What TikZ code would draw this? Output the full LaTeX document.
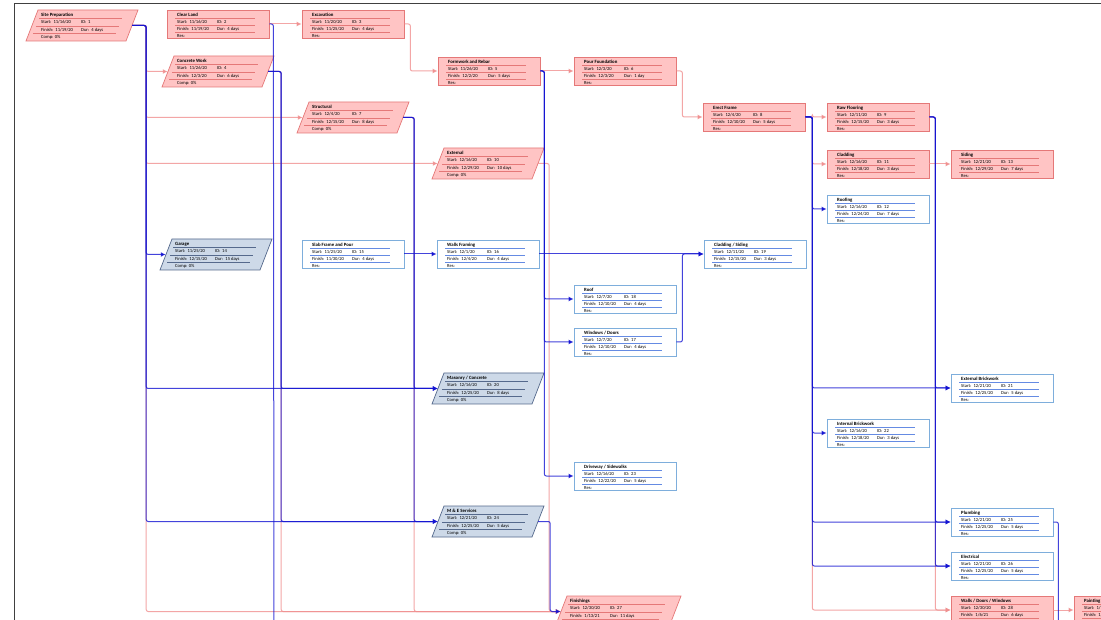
\documentclass[tikz,border=0pt]{standalone}
\usepackage{fontspec}
\setmainfont{Carlito}
\usetikzlibrary{arrows.meta,calc}
\definecolor{pkfill}{HTML}{FFC4C4}
\definecolor{pkdraw}{HTML}{E57878}
\definecolor{pkline}{HTML}{F09090}
\definecolor{bldraw}{HTML}{7EAEDC}
\definecolor{blline}{HTML}{1414D2}
\definecolor{gyfill}{HTML}{CDD9E8}
\definecolor{gydraw}{HTML}{55698C}
\tikzset{
  txt/.style={anchor=west,inner sep=0pt,font=\fontsize{4.6}{4.6}\selectfont},
  ttl/.style={anchor=west,inner sep=0pt,font=\fontsize{4.8}{4.8}\selectfont\bfseries},
  pkbox/.style={fill=pkfill,draw=pkdraw,line width=0.7pt},
  blbox/.style={fill=white,draw=bldraw,line width=0.7pt},
  gybox/.style={fill=gyfill,draw=gydraw,line width=0.7pt},
  pksep/.style={draw=pkdraw,line width=0.4pt},
  blsep/.style={draw=bldraw!80!blue,line width=0.4pt},
  gysep/.style={draw=gydraw,line width=0.4pt},
  pk/.style={draw=pkline,line width=1pt,rounded corners=2pt,draw opacity=0.8,-{Latex[length=5pt,width=5pt,fill=pkline]}},
  bl/.style={draw=blline,line width=1pt,rounded corners=2pt,draw opacity=0.8,-{Latex[length=5pt,width=5pt,fill=blline]}},
  blnt/.style={draw=blline,line width=1pt,rounded corners=2pt,draw opacity=0.8},
}
\newcommand\rbox[9]{%
\begin{scope}[shift={(#2,#3)}]
\node[#4box,minimum width=102pt,minimum height=28pt,inner sep=0pt] (#1) at (51,14) {};
\coordinate (#1-in) at (#1.west); \coordinate (#1-out) at (#1.east);
\draw[#4sep] (8,8.5) -- (88,8.5) (8,15.5) -- (88,15.5) (8,22.5) -- (88,22.5);
\node[ttl] at (10,5) {#5};
\node[txt] at (10,12) {Start:\, #6}; \node[txt] at (50,12) {ID:\, #7};
\node[txt] at (10,19) {Finish:\, #8}; \node[txt] at (50,19) {Dur:\, #9};
\node[txt] at (10,26) {Res:};
\end{scope}}
\newcommand\pw{112}
\newcommand\pbox[9]{%
\begin{scope}[shift={(#2,#3)}]
\node[minimum width=\pw pt,minimum height=31pt,inner sep=0pt] (#1) at (\pw/2,15.5) {};
\coordinate (#1-in) at ($(#1.west)+(6,0)$); \coordinate (#1-out) at ($(#1.east)+(-6,0)$);
\draw[#4box] (0,31) -- (12,0) -- (\pw,0) -- (\pw-12,31) -- cycle;
\draw[#4sep] (13,8.5) -- (\pw-16,8.5) (10,16) -- (\pw-19,16) (7,23.5) -- (\pw-22,23.5);
\node[ttl] at (15,5) {#5};
\node[txt] at (15,12.3) {Start:\, #6}; \node[txt] at (55,12.3) {ID:\, #7};
\node[txt] at (15,19.8) {Finish:\, #8}; \node[txt] at (55,19.8) {Dur:\, #9};
\node[txt] at (15,27.3) {Comp: 0\%};
\end{scope}}
\begin{document}
\begin{tikzpicture}[x=1pt,y=-1pt]
\useasboundingbox (0,0) rectangle (1101,620);
\clip (0,0) rectangle (1101,620);
\fill[white] (0,0) rectangle (1101,620);
\draw[black!75,line width=0.8pt] (14,640) -- (14,3) -- (1120,3);
\pbox{sp}{26}{10}{pk}{Site Preparation}{11/16/20}{1}{11/19/20}{4 days}
\rbox{cl}{167}{10}{pk}{Clear Land}{11/16/20}{2}{11/19/20}{4 days}
\rbox{exc}{302}{10}{pk}{Excavation}{11/20/20}{3}{11/25/20}{4 days}
\pbox{cw}{162}{56}{pk}{Concrete Work}{11/26/20}{4}{12/3/20}{6 days}
\rbox{fw}{438}{57}{pk}{Formwork and Rebar}{11/26/20}{5}{12/2/20}{5 days}
\rbox{pf}{574}{57}{pk}{Pour Foundation}{12/3/20}{6}{12/3/20}{1 day}
\pbox{st}{297}{102}{pk}{Structural}{12/4/20}{7}{12/15/20}{8 days}
\rbox{ef}{703}{103}{pk}{Erect Frame}{12/4/20}{8}{12/10/20}{5 days}
\rbox{rf}{827}{103}{pk}{Raw Flooring}{12/11/20}{9}{12/15/20}{3 days}
\pbox{ex}{432}{148}{pk}{External}{12/16/20}{10}{12/29/20}{10 days}
\rbox{cla}{827}{150}{pk}{Cladding}{12/16/20}{11}{12/18/20}{3 days}
\rbox{sid}{951}{150}{pk}{Siding}{12/21/20}{13}{12/29/20}{7 days}
\rbox{roo}{827}{195}{bl}{Roofing}{12/16/20}{12}{12/24/20}{7 days}
\pbox{ga}{160}{239}{gy}{Garage}{11/25/20}{14}{12/15/20}{15 days}
\rbox{sfp}{302}{240}{bl}{Slab Frame and Pour}{11/25/20}{15}{11/30/20}{4 days}
\rbox{wf}{437}{240}{bl}{Walls Framing}{12/1/20}{16}{12/4/20}{4 days}
\rbox{cs}{704}{240}{bl}{Cladding / Siding}{12/11/20}{19}{12/15/20}{3 days}
\rbox{rof}{574}{285}{bl}{Roof}{12/7/20}{18}{12/10/20}{4 days}
\rbox{win}{574}{328}{bl}{Windows / Doors}{12/7/20}{17}{12/10/20}{4 days}
\pbox{mc}{432}{373}{gy}{Masonry / Concrete}{12/16/20}{20}{12/25/20}{8 days}
\rbox{eb}{951}{374}{bl}{External Brickwork}{12/21/20}{21}{12/25/20}{5 days}
\rbox{ib}{827}{419}{bl}{Internal Brickwork}{12/16/20}{22}{12/18/20}{3 days}
\rbox{dw}{574}{462}{bl}{Driveway / Sidewalks}{12/16/20}{23}{12/22/20}{5 days}
\pbox{me}{432}{506}{gy}{M \& E Services}{12/21/20}{24}{12/25/20}{5 days}
\rbox{pl}{951}{508}{bl}{Plumbing}{12/21/20}{25}{12/25/20}{5 days}
\rbox{el}{951}{552}{bl}{Electrical}{12/21/20}{26}{12/25/20}{5 days}
\renewcommand\pw{126}
\pbox{fin}{555}{596}{pk}{Finishings}{12/30/20}{27}{1/13/21}{11 days}
\rbox{wdw}{951}{596}{pk}{Walls / Doors / Windows}{12/30/20}{28}{1/6/21}{6 days}
\rbox{pai}{1074}{596}{pk}{Painting}{1/7/21}{29}{1/13/21}{5 days}
\coordinate (clend) at (274,640);
\draw[pk] (sp-out) -- ++(14,0) |- (cw-in);
\draw[pk] (sp-out) -- ++(14,0) |- (st-in);
\draw[pk] (sp-out) -- ++(14,0) |- (ex-in);
\draw[pk] (sp-out) -- ++(14,0) |- (fin-in);
\draw[pk] (cl-out) -- (exc-in);
\draw[pk] (cw-out) -- ++(13,0) |- (fin-in);
\draw[pk] (exc-out) -- ++(6,0) |- (fw-in);
\draw[pk] (st-out) -- ++(11,0) |- (fin-in);
\draw[pk] (fw-out) -- (pf-in);
\draw[pk] (ex-out) -- ++(11,0) |- (fin-in);
\draw[pk] (pf-out) -- ++(6,0) |- (ef-in);
\draw[pk] (ef-out) -- ++(7,0) |- (rf-in);
\draw[pk] (ef-out) -- ++(7,0) |- (cla-in);
\draw[pk] (ef-out) -- ++(7,0) |- (wdw-in);
\draw[pk] (rf-out) -- ++(6,0) |- (wdw-in);
\draw[pk] (cla-out) -- (sid-in);
\draw[pk] (wdw-out) -- (pai-in);
\draw[bl] (sp-out) -- ++(14,0) |- (ga-in);
\draw[bl] (sp-out) -- ++(14,0) |- (mc-in);
\draw[bl] (sp-out) -- ++(14,0) |- (me-in);
\draw[blnt] (cl-out) -- ++(4,0) -- (clend);
\draw[bl] (cw-out) -- ++(13,0) |- (mc-in);
\draw[bl] (cw-out) -- ++(13,0) |- (me-in);
\draw[bl] (st-out) -- ++(11,0) |- (mc-in);
\draw[bl] (st-out) -- ++(11,0) |- (me-in);
\draw[bl] (fw-out) -- ++(4,0) |- (rof-in);
\draw[bl] (fw-out) -- ++(4,0) |- (win-in);
\draw[bl] (fw-out) -- ++(4,0) |- (dw-in);
\draw[bl] (me-out) -- ++(12,0) |- (fin-in);
\draw[bl] (sfp-out) -- (wf-in);
\draw[bl] (wf-out) -- (cs-in);
\draw[bl] (win-out) -- ++(6,0) |- (cs-in);
\draw[bl] (ef-out) -- ++(7,0) |- (roo-in);
\draw[bl] (ef-out) -- ++(7,0) |- (eb-in);
\draw[bl] (ef-out) -- ++(7,0) |- (ib-in);
\draw[bl] (ef-out) -- ++(7,0) |- (pl-in);
\draw[bl] (ef-out) -- ++(7,0) |- (el-in);
\draw[bl] (rf-out) -- ++(6,0) |- (eb-in);
\draw[bl] (rf-out) -- ++(6,0) |- (pl-in);
\draw[bl] (rf-out) -- ++(6,0) |- (el-in);
\draw[blnt] (pl-out) -- ++(5,0) -- ++(0,140);
\end{tikzpicture}
\end{document}
